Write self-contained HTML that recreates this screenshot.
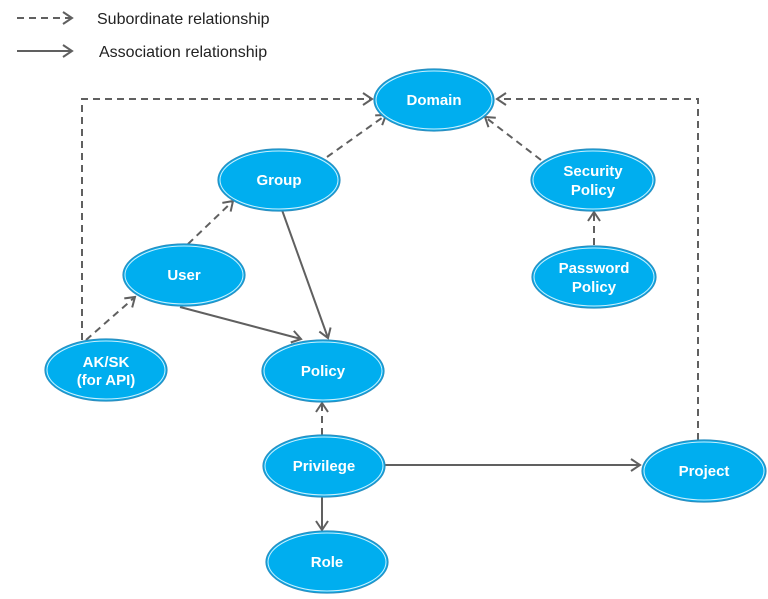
<!DOCTYPE html>
<html><head><style>
html,body{margin:0;padding:0;background:#fff;}
svg{display:block;font-family:"Liberation Sans",Arial,sans-serif;}
.n{fill:#00aeef;stroke:#2a8fc0;stroke-width:1.2;}
.i{fill:none;stroke:#fff;stroke-width:1;opacity:.8;}
.t{fill:#fff;font-weight:bold;font-size:15px;text-anchor:middle;}
.d{stroke:#606060;stroke-width:2;fill:none;stroke-dasharray:7,5;}
.s{stroke:#606060;stroke-width:2;fill:none;}
</style></head><body>
<svg width="768" height="599" viewBox="0 0 768 599">
<defs>
<marker id="ar" markerWidth="14" markerHeight="14" refX="11" refY="7" orient="auto" markerUnits="userSpaceOnUse">
<path d="M2,1 L11,7 L2,13" fill="none" stroke="#606060" stroke-width="2"/>
</marker>
</defs>
<line x1="17" y1="18" x2="72" y2="18" class="d" marker-end="url(#ar)"/>
<text x="97" y="24" font-size="16" fill="#222">Subordinate relationship</text>
<line x1="17" y1="51" x2="72" y2="51" class="s" marker-end="url(#ar)"/>
<text x="99" y="57" font-size="16" fill="#222">Association relationship</text>

<polyline points="82,340 82,99 372,99" class="d" marker-end="url(#ar)"/>
<polyline points="698,440 698,99 497,99" class="d" marker-end="url(#ar)"/>
<line x1="86" y1="340" x2="135" y2="297" class="d" marker-end="url(#ar)"/>
<line x1="188" y1="244" x2="233" y2="201" class="d" marker-end="url(#ar)"/>
<line x1="327" y1="157" x2="386" y2="115" class="d" marker-end="url(#ar)"/>
<line x1="541" y1="160" x2="485" y2="117" class="d" marker-end="url(#ar)"/>
<line x1="594" y1="245" x2="594" y2="212" class="d" marker-end="url(#ar)"/>
<line x1="180" y1="307" x2="301" y2="339" class="s" marker-end="url(#ar)"/>
<line x1="282" y1="210" x2="328" y2="338" class="s" marker-end="url(#ar)"/>
<line x1="322" y1="435" x2="322" y2="403" class="d" marker-end="url(#ar)"/>
<line x1="385" y1="465" x2="640" y2="465" class="s" marker-end="url(#ar)"/>
<line x1="322" y1="497" x2="322" y2="530" class="s" marker-end="url(#ar)"/>

<g>
<ellipse cx="434" cy="100" rx="60" ry="31" class="n"/><ellipse cx="434" cy="100" rx="58" ry="29" class="i"/>
<text x="434" y="105" class="t">Domain</text>
<ellipse cx="279" cy="180" rx="61" ry="31" class="n"/><ellipse cx="279" cy="180" rx="59" ry="29" class="i"/>
<text x="279" y="185" class="t">Group</text>
<ellipse cx="184" cy="275" rx="61" ry="31" class="n"/><ellipse cx="184" cy="275" rx="59" ry="29" class="i"/>
<text x="184" y="280" class="t">User</text>
<ellipse cx="106" cy="370" rx="61" ry="31" class="n"/><ellipse cx="106" cy="370" rx="59" ry="29" class="i"/>
<text x="106" y="367" class="t">AK/SK</text><text x="106" y="385" class="t">(for API)</text>
<ellipse cx="323" cy="371" rx="61" ry="31" class="n"/><ellipse cx="323" cy="371" rx="59" ry="29" class="i"/>
<text x="323" y="376" class="t">Policy</text>
<ellipse cx="324" cy="466" rx="61" ry="31" class="n"/><ellipse cx="324" cy="466" rx="59" ry="29" class="i"/>
<text x="324" y="471" class="t">Privilege</text>
<ellipse cx="327" cy="562" rx="61" ry="31" class="n"/><ellipse cx="327" cy="562" rx="59" ry="29" class="i"/>
<text x="327" y="567" class="t">Role</text>
<ellipse cx="593" cy="180" rx="62" ry="31" class="n"/><ellipse cx="593" cy="180" rx="60" ry="29" class="i"/>
<text x="593" y="176" class="t">Security</text><text x="593" y="195" class="t">Policy</text>
<ellipse cx="594" cy="277" rx="62" ry="31" class="n"/><ellipse cx="594" cy="277" rx="60" ry="29" class="i"/>
<text x="594" y="273" class="t">Password</text><text x="594" y="292" class="t">Policy</text>
<ellipse cx="704" cy="471" rx="62" ry="31" class="n"/><ellipse cx="704" cy="471" rx="60" ry="29" class="i"/>
<text x="704" y="476" class="t">Project</text>
</g>
</svg>
</body></html>
